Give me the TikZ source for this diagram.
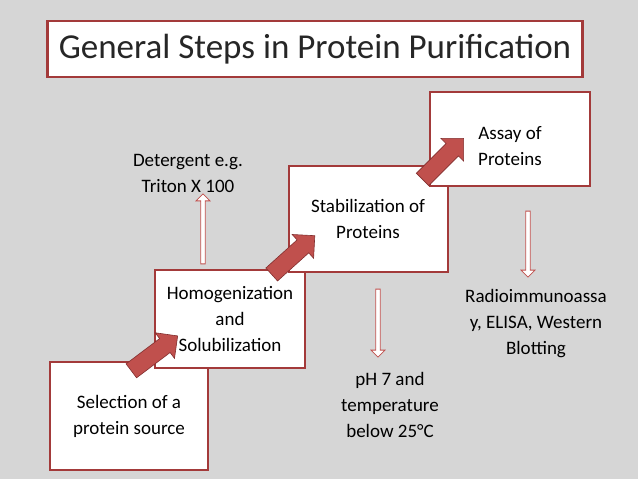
\documentclass[tikz,border=0pt]{standalone}
\usepackage{fontspec}
\setmainfont{Carlito}
\usetikzlibrary{shapes.arrows}
\definecolor{bord}{HTML}{A33A3A}
\definecolor{afill}{HTML}{C0504D}
\definecolor{bg}{HTML}{D6D6D6}
\tikzset{
 x=1pt,y=-1pt,
 stepbox/.style={draw=bord,line width=2pt,fill=white,align=center,font=\fontsize{19}{26}\selectfont,inner sep=0pt},
 lbl/.style={align=center,font=\fontsize{19}{26}\selectfont},
 bigarrow/.style={single arrow,fill=afill,draw=bord!80!black,line width=0.6pt,minimum height=64pt,minimum width=32pt,single arrow head extend=4pt,inner sep=4.5pt},
 thinarrow/.style={single arrow,fill=white,draw=afill,line width=0.8pt,minimum width=14pt,single arrow head extend=4pt,inner sep=1.5pt}
}
\begin{document}
\begin{tikzpicture}
\fill[bg] (0,0) rectangle (638,479);
\useasboundingbox (0,0) rectangle (638,479);
\node[stepbox,line width=2.5pt,minimum width=535pt,minimum height=56pt,font=\fontsize{35}{38}\selectfont,text=black!85] (title) at (315,49) {General Steps in Protein Purification};
\node[stepbox,minimum width=158pt,minimum height=108pt] (sel) at (129,416) {Selection of a\\protein source};
\node[stepbox,minimum width=150pt,minimum height=98pt] (hom) at (230,319) {Homogenization\\and\\Solubilization};
\node[stepbox,minimum width=159pt,minimum height=106pt] (sta) at (368,219) {Stabilization of\\Proteins};
\node[stepbox,minimum width=160pt,minimum height=94pt] (ass) at (510,139) {};
\node[lbl] (at) at (510,146) {Assay of\\Proteins};
\node[bigarrow,rotate=37,minimum height=58pt] (a1) at (151,356) {};
\node[bigarrow,rotate=42,minimum height=58pt] (a2) at (290,258) {};
\node[bigarrow,rotate=45,minimum height=58pt] (a3) at (440,162) {};
\node[thinarrow,rotate=90,minimum height=70pt] (u1) at (203,230) {};
\node[thinarrow,rotate=-90,minimum height=68pt] (d1) at (378,322) {};
\node[thinarrow,rotate=-90,minimum height=66pt] (d2) at (528,243) {};
\node[lbl] (t1) at (188,173) {Detergent e.g.\\Triton X 100};
\node[lbl] (t2) at (390,405) {pH 7 and\\temperature\\below 25°C};
\node[lbl] (t3) at (536,324) {Radioimmunoassa\\y, ELISA, Western\\Blotting};
\end{tikzpicture}
\end{document}
